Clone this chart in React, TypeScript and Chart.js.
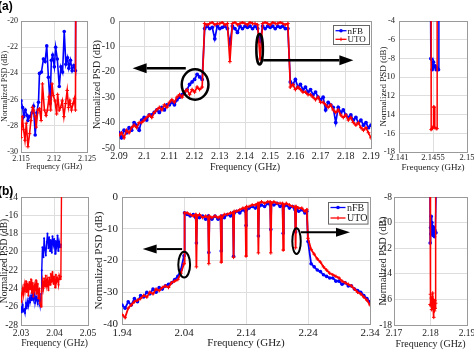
import React, { useEffect, useRef } from "react";
import { Chart, registerables } from "chart.js";

Chart.register(...registerables);

const SERIF = '"Liberation Serif", "Times New Roman", serif';
const BLUE = "#0000ff";
const RED = "#ff0000";
const TEXT = "#222222";
const GRID = "#dedede";
const FRAME = "#9a9a9a";

const X_TITLE = "Frequency (GHz)";
const Y_TITLE = "Normalized PSD (dB)";
const NAMES = ["nFB", "UTO"];

// ---------------- (a) left : zoom on lower band edge ----------------
const aLeftTicksX = [2.115, 2.12, 2.125];
const aLeftTicksY = [-30, -28, -26, -24, -22, -20];
const aLeftFreqNfb = [2.115, 2.11525, 2.1154, 2.11565, 2.1159, 2.11605, 2.1163, 2.11665, 2.1169, 2.11715, 2.1174, 2.11765, 2.1178, 2.1181, 2.1184, 2.11865, 2.1189, 2.11915, 2.1194, 2.1196, 2.1198, 2.12005, 2.12025, 2.1205, 2.1208, 2.12105, 2.1213, 2.12155, 2.1218, 2.12205, 2.12225, 2.1225, 2.12275, 2.123, 2.12325, 2.12335];
const aLeftPsdNfb = [-26.1, -26.6, -27.3, -26.8, -27.2, -27.6, -27.3, -27.0, -26.5, -28.7, -27.0, -26.2, -24.0, -23.9, -22.9, -23.1, -21.9, -24.3, -26.3, -23.0, -22.6, -23.5, -22.0, -22.9, -25.0, -23.5, -23.9, -20.8, -23.3, -22.8, -23.6, -23.0, -23.8, -23.4, -23.8, -10];
const aLeftFreqUto = [2.115, 2.1152, 2.1154, 2.1156, 2.1158, 2.11605, 2.1163, 2.1165, 2.11675, 2.1169, 2.11715, 2.1173, 2.11755, 2.1178, 2.11805, 2.11825, 2.11855, 2.1188, 2.119, 2.11925, 2.1195, 2.1197, 2.1199, 2.12015, 2.1204, 2.12055, 2.1208, 2.121, 2.12125, 2.1215, 2.12175, 2.122, 2.1222, 2.1224, 2.12265, 2.1229, 2.1231, 2.12325, 2.12335];
const aLeftPsdUto = [-28.9, -27.3, -28.3, -29.1, -27.8, -29.6, -28.6, -27.6, -26.6, -26.8, -27.3, -28.1, -26.8, -26.7, -27.6, -24.8, -26.8, -27.2, -26.8, -25.8, -26.8, -24.8, -25.7, -26.1, -27.1, -25.6, -26.8, -26.6, -26.1, -27.3, -26.3, -25.3, -26.6, -26.1, -26.8, -26.3, -25.9, -26.8, -10];

// ---------------- (a) middle : full spectrum ----------------
const aMidTicksX = [2.09, 2.1, 2.11, 2.12, 2.13, 2.14, 2.15, 2.16, 2.17, 2.18, 2.19];
const aMidTicksY = [-50, -40, -30, -20, -10, 0];
const aMidFreq = [
  2.090, 2.091, 2.092, 2.093, 2.094, 2.095, 2.096, 2.097, 2.098, 2.099,
  2.100, 2.101, 2.102, 2.103, 2.104, 2.105, 2.106, 2.107, 2.108, 2.109,
  2.110, 2.111, 2.112, 2.113, 2.114, 2.115, 2.116, 2.117, 2.118, 2.119,
  2.120, 2.121, 2.122, 2.123, 2.124, 2.125, 2.126, 2.127, 2.128, 2.129,
  2.130, 2.131, 2.132, 2.133, 2.134, 2.135, 2.136, 2.137, 2.138, 2.139,
  2.140, 2.141, 2.142, 2.143, 2.144, 2.145, 2.146, 2.147, 2.148, 2.149,
  2.150, 2.151, 2.152, 2.153, 2.154, 2.155, 2.156, 2.157, 2.158, 2.159,
  2.160, 2.161, 2.162, 2.163, 2.164, 2.165, 2.166, 2.167, 2.168, 2.169,
  2.170, 2.171, 2.172, 2.173, 2.174, 2.175, 2.176, 2.177, 2.178, 2.179,
  2.180, 2.181, 2.182, 2.183, 2.184, 2.185, 2.186, 2.187, 2.188, 2.189,
  2.190,
];
const aMidPsdNfb = [
  -44, -46, -43, -44, -42, -43, -40, -41, -43, -39,
  -38, -39, -37, -37, -36, -35, -36, -34, -35, -33,
  -33, -32, -33, -31, -30, -29, -28, -27, -25, -24,
  -23, -21, -22, -23, -3, -2, -3, -2.5, -7, -2,
  -3, -2.5, -2, -3, -9, -2, -3, -4.5, -2, -3,
  -2, -2.5, -2, -3, -2, -3, -8, -2, -3, -2,
  -2.5, -2, -3, -2, -2.5, -2, -3, -3, -24, -25,
  -23, -26, -25, -27, -26, -28, -27, -29, -28, -30,
  -31, -30, -35, -32, -33, -34, -40, -34, -36, -35,
  -37, -38, -37, -39, -38, -40, -39, -41, -40, -42,
  -41,
];
const aMidPsdUto = [
  -45, -44, -46, -43, -44, -42, -41, -42, -40, -40,
  -39, -38, -37, -38, -36, -35, -34, -35, -33, -34,
  -32, -31, -32, -30, -29, -30, -28, -27, -29, -27,
  -28, -26, -27, -26, -1, -1.5, -1, -0.5, -1.5, -1,
  -1, -0.5, -1.5, -1, -16, -1, -0.5, -1.5, -1, -0.5,
  -1, -1.5, -0.5, -1, -1, -1.5, -15, -1, -0.5, -1,
  -1.5, -0.5, -1, -1, -0.5, -1, -1.5, -1, -26, -25,
  -27, -26, -27, -28, -28, -29, -29, -30, -31, -30,
  -32, -32, -33, -34, -33, -35, -36, -35, -37, -38,
  -37, -39, -38, -40, -41, -40, -42, -43, -42, -44,
  -46,
];

// ---------------- (a) right : zoom on one notch ----------------
const aRightTicksX = [2.141, 2.1455, 2.15];
const aRightTicksY = [-18, -16, -14, -12, -10, -8, -6, -4];
const aRightFreqNfb = [2.14517, 2.14521, 2.1453, 2.14539, 2.14548, 2.14557, 2.14566, 2.14579, 2.14592, 2.14605, 2.14623, 2.14628];
const aRightPsdNfb = [-2, -8.0, -8.1, -9.2, -9.0, -8.4, -8.9, -8.8, -9.2, -9.0, -9.2, -2];
const aRightFreqUto = [2.14524, 2.14526, 2.14539, 2.14552, 2.14557, 2.14566, 2.14574, 2.14592, 2.14603, 2.14605];
const aRightPsdUto = [-2, -15.6, -15.5, -15.3, -13.2, -13.2, -15.4, -15.5, -15.5, -2];

// ---------------- (b) left ----------------
const bLeftTicksX = [2.03, 2.04, 2.05];
const bLeftTicksY = [-28, -26, -24, -22, -20, -18, -16, -14];
const bLeftFreqNfb = [
  2.03, 2.0302, 2.0305, 2.0307, 2.031, 2.0312, 2.0315, 2.0317, 2.032, 2.0322,
  2.0325, 2.0327, 2.033, 2.0332, 2.0335, 2.0337, 2.034, 2.0342, 2.0345, 2.0347,
  2.035, 2.0352, 2.0355, 2.0357, 2.036, 2.0362, 2.0364, 2.0367, 2.0369, 2.0372,
  2.0374, 2.0377, 2.0379, 2.0382, 2.0384, 2.0387, 2.0389, 2.0392, 2.0394, 2.0397,
  2.0399, 2.0402, 2.0404, 2.0407, 2.0409, 2.0412, 2.0414, 2.0417, 2.0419,
];
const bLeftPsdNfb = [
  -26.0, -26.6, -25.8, -26.5, -26.3, -26.7, -25.6, -26.2, -25.4, -25.9,
  -25.1, -25.5, -24.8, -25.3, -24.6, -25.2, -24.5, -25.6, -24.9, -25.3,
  -25.7, -24.8, -25.4, -25.9, -24.6, -22.0, -19.5, -20.6, -18.5, -19.8,
  -20.4, -18.9, -18.0, -19.6, -18.4, -19.9, -18.7, -20.1, -18.3, -19.2,
  -18.6, -20.2, -18.8, -19.4, -18.2, -19.9, -18.9, -19.5, -19.2,
];
const bLeftFreqUto = [
  2.03, 2.0302, 2.0305, 2.0307, 2.031, 2.0312, 2.0315, 2.0317, 2.032, 2.0322,
  2.0325, 2.0327, 2.033, 2.0332, 2.0335, 2.0337, 2.034, 2.0342, 2.0345, 2.0347,
  2.035, 2.0352, 2.0355, 2.0357, 2.036, 2.0362, 2.0364, 2.0367, 2.0369, 2.0372,
  2.0374, 2.0377, 2.0379, 2.0382, 2.0384, 2.0387, 2.0389, 2.0392, 2.0394, 2.0397,
  2.0399, 2.0402, 2.0404, 2.0407, 2.0409, 2.0412, 2.0414, 2.0417, 2.0419, 2.0421,
];
const bLeftPsdUto = [
  -25.5, -24.6, -24.0, -24.7, -23.6, -24.3, -23.2, -24.4, -23.5, -24.8,
  -23.3, -24.1, -23.0, -24.5, -23.4, -24.9, -23.7, -24.2, -23.1, -24.6,
  -23.5, -25.1, -24.0, -25.6, -26.0, -24.3, -23.2, -24.0, -22.9, -23.8,
  -22.6, -23.7, -23.1, -24.2, -22.8, -23.6, -22.4, -23.3, -22.2, -23.5,
  -22.7, -23.9, -22.5, -23.2, -22.9, -23.6, -22.6, -23.0, -22.7, -13,
];

// ---------------- (b) middle ----------------
const bMidTicksX = [1.94, 2.04, 2.14, 2.24, 2.34];
const bMidTicksY = [-40, -30, -20, -10, 0];
const bMidFreq = [
  1.940, 1.945, 1.950, 1.955, 1.960, 1.965, 1.970, 1.975, 1.980, 1.985,
  1.990, 1.995, 2.000, 2.005, 2.010, 2.015, 2.020, 2.025, 2.030, 2.035,
  2.040, 2.041, 2.045, 2.050, 2.055, 2.059, 2.060, 2.061, 2.065, 2.070,
  2.075, 2.079, 2.080, 2.081, 2.085, 2.090, 2.095, 2.099, 2.100, 2.101,
  2.105, 2.110, 2.115, 2.119, 2.120, 2.121, 2.125, 2.130, 2.135, 2.139,
  2.140, 2.141, 2.145, 2.150, 2.155, 2.159, 2.160, 2.161, 2.165, 2.170,
  2.175, 2.179, 2.180, 2.181, 2.185, 2.190, 2.195, 2.199, 2.200, 2.201,
  2.205, 2.210, 2.215, 2.219, 2.220, 2.221, 2.225, 2.230, 2.235, 2.238,
  2.240, 2.245, 2.250, 2.255, 2.260, 2.265, 2.270, 2.275, 2.280, 2.285,
  2.290, 2.295, 2.300, 2.305, 2.310, 2.315, 2.320, 2.325, 2.330, 2.335,
  2.340,
];
const bMidPsdNfb = [
  -34, -35, -33, -34, -32, -33, -31, -31.5, -30, -30.5,
  -29, -30, -28.5, -29, -28, -27.5, -27, -26, -25, -23,
  -18.5, -5, -5.5, -6, -5.5, -6.5, -14.5, -6, -6.5, -6,
  -7, -6, -17.5, -6.5, -7, -6, -7, -6.5, -17, -6,
  -6.5, -5.5, -6, -5, -18.7, -5, -4.5, -5, -4, -4.5,
  -9, -4, -3.5, -3, -3.5, -2.5, -12.3, -3, -2.5, -3,
  -2, -2.5, -10.2, -2, -2.5, -2, -3, -2.5, -11.4, -3,
  -2.5, -3.5, -3, -4, -11, -3.5, -4.5, -4, -5, -4.5,
  -14, -21, -22, -23, -23.5, -24.5, -25, -25.5, -25.5, -26.5,
  -26.5, -27.5, -27, -28, -28, -29, -29.5, -30, -31, -32,
  -33,
];
const bMidPsdUto = [
  -37, -38, -35, -34, -33, -32.5, -32, -31, -31.5, -30,
  -30.5, -29, -29.5, -28.5, -28, -28.5, -27, -26.5, -26, -24,
  -21, -5, -5, -5.5, -6, -5.5, -22, -6, -5.5, -6.5,
  -6, -6.5, -21, -6, -6.5, -6, -6.5, -6, -20.5, -6.5,
  -5.5, -5.5, -5, -5, -19, -4.5, -4.5, -4, -3.5, -3.5,
  -18.6, -3, -3, -2.5, -2.5, -2, -17.6, -2, -1.5, -2,
  -1.5, -1.5, -17.6, -2, -1.5, -2, -2, -2, -16.7, -2.5,
  -2, -2.5, -3, -3, -16, -3, -3.5, -3.5, -4.5, -4,
  -13, -16.5, -18, -19.5, -20.5, -22, -23, -24, -24.5, -25,
  -25.5, -26.5, -27, -27.5, -28, -29, -30, -30.5, -31.5, -32.5,
  -34,
];

// ---------------- (b) right ----------------
const bRightTicksX = [2.17, 2.18, 2.19];
const bRightTicksY = [-18, -16, -14, -12, -10, -8];
const bRightFreqNfb = [2.17985, 2.1799, 2.18, 2.1801, 2.1802, 2.1803, 2.1804, 2.1805, 2.1806, 2.1807, 2.1808, 2.1809, 2.181, 2.1811, 2.1812, 2.1813, 2.1815, 2.1816];
const bRightPsdNfb = [-7, -11.6, -10.4, -10.9, -9.5, -10.2, -10.0, -10.7, -10.3, -11.0, -10.5, -10.9, -10.4, -11.1, -10.6, -10.8, -10.8, -7];
const bRightFreqUto = [2.17988, 2.1799, 2.18, 2.1801, 2.1802, 2.1803, 2.1804, 2.1805, 2.1806, 2.1807, 2.1808, 2.1809, 2.181, 2.1811, 2.1812, 2.1813, 2.1814, 2.18142];
const bRightPsdUto = [-7, -16.4, -15.6, -16.5, -15.9, -16.8, -15.8, -16.3, -15.5, -16.6, -16.0, -17.4, -16.2, -16.9, -16.1, -16.7, -16.3, -7];

// ---------------- layout / annotation specs ----------------
type Note =
  | { kind: "ellipse"; x: number; y: number; rx: number; ry: number }
  | { kind: "arrow"; x1: number; y1: number; x2: number; y2: number };

interface LegendSpec {
  inset: number; top: number; w: number; h: number; font: number;
  rows: [number, number]; lineFrom: number; lineTo: number; textAt: number;
}

interface PanelSpec {
  plot: { left: number; top: number; right: number; bottom: number };
  yTitleX: number;
  xTitleY: number;
  tickFont: number;
  titleFont: number;
  padX: number;
  padY: number;
  xRange: [number, number];
  yRange: [number, number];
  xTicks: number[];
  yTicks: number[];
  nfb: [number[], number[]];
  uto: [number[], number[]];
  lineWidth: number;
  blueR: number;
  redR: number;
  legend?: LegendSpec;
  notes?: Note[];
  noteWidth?: number;
  head?: [number, number];
}

const PANELS: PanelSpec[] = [
  {
    plot: { left: 21, top: 21, right: 87, bottom: 152 }, yTitleX: 5, xTitleY: 167,
    tickFont: 8, titleFont: 8, padX: 2, padY: 3,
    xRange: [2.115, 2.125], yRange: [-30, -20], xTicks: aLeftTicksX, yTicks: aLeftTicksY,
    nfb: [aLeftFreqNfb, aLeftPsdNfb], uto: [aLeftFreqUto, aLeftPsdUto],
    lineWidth: 1.6, blueR: 1.8, redR: 1.8,
  },
  {
    plot: { left: 119, top: 21, right: 371, bottom: 148 }, yTitleX: 97, xTitleY: 167,
    tickFont: 10, titleFont: 10, padX: 2, padY: 4,
    xRange: [2.09, 2.19], yRange: [-50, 0], xTicks: aMidTicksX, yTicks: aMidTicksY,
    nfb: [aMidFreq, aMidPsdNfb], uto: [aMidFreq, aMidPsdUto],
    lineWidth: 1.7, blueR: 1.9, redR: 1.9,
    legend: { inset: 2, top: 4, w: 36, h: 19, font: 9, rows: [5.7, 14.3], lineFrom: 2.5, lineTo: 13.5, textAt: 14.5 },
    notes: [
      { kind: "ellipse", x: 2.1202, y: -25, rx: 0.0053, ry: 6 },
      { kind: "arrow", x1: 2.1165, y1: -18.6, x2: 2.0954, y2: -18.6 },
      { kind: "ellipse", x: 2.1458, y: -11.1, rx: 0.0013, ry: 6 },
      { kind: "arrow", x1: 2.1472, y1: -15.5, x2: 2.183, y2: -15.5 },
    ],
    noteWidth: 2.5, head: [14, 5],
  },
  {
    plot: { left: 399, top: 21, right: 467, bottom: 152 }, yTitleX: 383, xTitleY: 168,
    tickFont: 8.5, titleFont: 9, padX: 1, padY: 4,
    xRange: [2.141, 2.15], yRange: [-18, -4], xTicks: aRightTicksX, yTicks: aRightTicksY,
    nfb: [aRightFreqNfb, aRightPsdNfb], uto: [aRightFreqUto, aRightPsdUto],
    lineWidth: 1.5, blueR: 1.8, redR: 1.8,
  },
  {
    plot: { left: 21, top: 197, right: 88, bottom: 325 }, yTitleX: 5, xTitleY: 343,
    tickFont: 9.5, titleFont: 9.5, padX: 3, padY: 3,
    xRange: [2.03, 2.05], yRange: [-28, -14], xTicks: bLeftTicksX, yTicks: bLeftTicksY,
    nfb: [bLeftFreqNfb, bLeftPsdNfb], uto: [bLeftFreqUto, bLeftPsdUto],
    lineWidth: 1.4, blueR: 1, redR: 1,
  },
  {
    plot: { left: 122, top: 197, right: 370, bottom: 324 }, yTitleX: 100, xTitleY: 343,
    tickFont: 11, titleFont: 11, padX: 3, padY: 4,
    xRange: [1.94, 2.34], yRange: [-40, 0], xTicks: bMidTicksX, yTicks: bMidTicksY,
    nfb: [bMidFreq, bMidPsdNfb], uto: [bMidFreq, bMidPsdUto],
    lineWidth: 1.8, blueR: 1.8, redR: 1.8,
    legend: { inset: 3, top: 4.7, w: 39.5, h: 21.6, font: 10, rows: [5.5, 16], lineFrom: 2.5, lineTo: 17.5, textAt: 19 },
    notes: [
      { kind: "ellipse", x: 2.0403, y: -21.3, rx: 0.0095, ry: 4.05 },
      { kind: "arrow", x1: 2.037, y1: -16.4, x2: 1.9733, y2: -16.4 },
      { kind: "ellipse", x: 2.2215, y: -13.9, rx: 0.0068, ry: 4.05 },
      { kind: "arrow", x1: 2.2287, y1: -11.1, x2: 2.3077, y2: -11.1 },
    ],
    noteWidth: 2, head: [14, 4.5],
  },
  {
    plot: { left: 394, top: 197, right: 467, bottom: 325 }, yTitleX: 383, xTitleY: 344,
    tickFont: 9.5, titleFont: 10, padX: 3, padY: 2,
    xRange: [2.17, 2.19], yRange: [-18, -8], xTicks: bRightTicksX, yTicks: bRightTicksY,
    nfb: [bRightFreqNfb, bRightPsdNfb], uto: [bRightFreqUto, bRightPsdUto],
    lineWidth: 1.5, blueR: 1.8, redR: 1.8,
  },
];

const toPoints = (s: [number[], number[]]) => s[0].map((x, i) => ({ x, y: s[1][i] }));
const fmt = (v: any) => String(Number(Number(v).toFixed(5)));

const framePlugin = {
  id: "frame",
  beforeDatasetsDraw(chart: any) {
    const { ctx, chartArea: a } = chart;
    ctx.save();
    ctx.strokeStyle = FRAME;
    ctx.lineWidth = 1;
    ctx.strokeRect(a.left + 0.5, a.top + 0.5, a.right - a.left, a.bottom - a.top);
    ctx.restore();
  },
};

function makeOverlay(spec: PanelSpec) {
  return {
    id: "overlay",
    afterDraw(chart: any) {
      const ctx = chart.ctx as CanvasRenderingContext2D;
      const a = chart.chartArea;
      const xs = chart.scales.x;
      const ys = chart.scales.y;
      ctx.save();
      if (spec.notes) {
        ctx.strokeStyle = "#000";
        ctx.fillStyle = "#000";
        ctx.lineWidth = spec.noteWidth || 2;
        const [hl, hw] = spec.head || [12, 4];
        for (const n of spec.notes) {
          if (n.kind === "ellipse") {
            const cx = xs.getPixelForValue(n.x);
            const cy = ys.getPixelForValue(n.y);
            const rx = Math.abs(xs.getPixelForValue(n.x + n.rx) - cx);
            const ry = Math.abs(ys.getPixelForValue(n.y + n.ry) - cy);
            ctx.beginPath();
            ctx.ellipse(cx, cy, rx, ry, 0, 0, Math.PI * 2);
            ctx.stroke();
          } else {
            const x1 = xs.getPixelForValue(n.x1), y1 = ys.getPixelForValue(n.y1);
            const x2 = xs.getPixelForValue(n.x2), y2 = ys.getPixelForValue(n.y2);
            const len = Math.hypot(x2 - x1, y2 - y1) || 1;
            const dx = (x2 - x1) / len, dy = (y2 - y1) / len;
            const bx = x2 - dx * hl, by = y2 - dy * hl;
            ctx.beginPath();
            ctx.moveTo(x1, y1);
            ctx.lineTo(bx, by);
            ctx.stroke();
            ctx.beginPath();
            ctx.moveTo(x2, y2);
            ctx.lineTo(bx - dy * hw, by + dx * hw);
            ctx.lineTo(bx + dy * hw, by - dx * hw);
            ctx.closePath();
            ctx.fill();
          }
        }
      }
      const lg = spec.legend;
      if (lg) {
        const bx = Math.round(a.right - lg.inset - lg.w);
        const by = Math.round(a.top + lg.top);
        ctx.fillStyle = "#fff";
        ctx.fillRect(bx, by, lg.w, lg.h);
        ctx.strokeStyle = "#666";
        ctx.lineWidth = 1;
        ctx.strokeRect(bx + 0.5, by + 0.5, lg.w, lg.h);
        const colors = [BLUE, RED];
        chart.data.datasets.forEach((ds: any, i: number) => {
          const y = by + lg.rows[i];
          const c = colors[i];
          ctx.strokeStyle = c;
          ctx.fillStyle = c;
          ctx.lineWidth = 1.3;
          ctx.beginPath();
          ctx.moveTo(bx + lg.lineFrom, y);
          ctx.lineTo(bx + lg.lineTo, y);
          ctx.stroke();
          const mx = bx + (lg.lineFrom + lg.lineTo) / 2;
          if (i === 0) {
            ctx.beginPath();
            ctx.arc(mx, y, 1.8, 0, Math.PI * 2);
            ctx.fill();
          } else {
            ctx.lineWidth = 1;
            ctx.beginPath();
            ctx.moveTo(mx, y - 1.8);
            ctx.lineTo(mx, y + 1.8);
            ctx.stroke();
          }
          ctx.fillStyle = TEXT;
          ctx.font = `${lg.font}px ${SERIF}`;
          ctx.textBaseline = "middle";
          ctx.textAlign = "left";
          ctx.fillText(ds.label, bx + lg.textAt, y + 0.5);
        });
      }
      ctx.restore();
    },
  };
}

function geometry(spec: PanelSpec) {
  const lh = spec.titleFont * 1.2;
  const padTop = 10;
  const padRight = 16;
  const left = Math.round(spec.yTitleX - lh / 2);
  const top = spec.plot.top - padTop;
  const yW = spec.plot.left - left;
  const xH = Math.round(spec.xTitleY + lh / 2 - spec.plot.bottom);
  const W = spec.plot.right + padRight - left;
  const H = spec.plot.bottom + xH - top;
  return { left, top, yW, xH, W, H, padTop, padRight };
}

function Panel({ spec }: { spec: PanelSpec }) {
  const ref = useRef<HTMLCanvasElement>(null);
  const g = geometry(spec);
  useEffect(() => {
    const tickFont = { family: SERIF, size: spec.tickFont };
    const titleFont = { family: SERIF, size: spec.titleFont };
    const chart = new Chart(ref.current as HTMLCanvasElement, {
      type: "line",
      data: {
        datasets: [
          {
            label: NAMES[0],
            data: toPoints(spec.nfb),
            borderColor: BLUE,
            backgroundColor: BLUE,
            borderWidth: spec.lineWidth,
            pointStyle: "circle",
            pointRadius: spec.blueR,
            pointBackgroundColor: BLUE,
            pointBorderColor: BLUE,
            pointBorderWidth: 0,
            tension: 0,
            fill: false,
            order: 1,
          },
          {
            label: NAMES[1],
            data: toPoints(spec.uto),
            borderColor: RED,
            backgroundColor: RED,
            borderWidth: spec.lineWidth,
            pointStyle: "cross",
            pointRadius: spec.redR,
            pointBackgroundColor: RED,
            pointBorderColor: RED,
            pointBorderWidth: 1,
            tension: 0,
            fill: false,
            order: 0,
          },
        ],
      } as any,
      options: {
        responsive: false,
        animation: false,
        events: [],
        layout: { padding: { top: g.padTop, right: g.padRight, left: 0, bottom: 0 } },
        plugins: { legend: { display: false }, tooltip: { enabled: false }, title: { display: false } },
        scales: {
          x: {
            type: "linear",
            min: spec.xRange[0],
            max: spec.xRange[1],
            afterBuildTicks: (s: any) => { s.ticks = spec.xTicks.map((v) => ({ value: v })); },
            afterFit: (s: any) => { s.height = g.xH; s.paddingLeft = 0; s.paddingRight = 0; },
            ticks: { autoSkip: false, maxRotation: 0, minRotation: 0, padding: spec.padX, font: tickFont, color: TEXT, callback: fmt },
            grid: { color: GRID, drawTicks: false, lineWidth: 1 },
            border: { display: false },
            title: { display: true, text: X_TITLE, font: titleFont, color: TEXT, padding: 0 },
          },
          y: {
            type: "linear",
            min: spec.yRange[0],
            max: spec.yRange[1],
            afterBuildTicks: (s: any) => { s.ticks = spec.yTicks.map((v) => ({ value: v })); },
            afterFit: (s: any) => { s.width = g.yW; s.paddingTop = 0; s.paddingBottom = 0; },
            ticks: { autoSkip: false, padding: spec.padY, font: tickFont, color: TEXT, callback: fmt },
            grid: { color: GRID, drawTicks: false, lineWidth: 1 },
            border: { display: false },
            title: { display: true, text: Y_TITLE, font: titleFont, color: TEXT, padding: 0 },
          },
        },
      } as any,
      plugins: [framePlugin, makeOverlay(spec)],
    });
    return () => chart.destroy();
  }, []);
  return (
    <canvas
      ref={ref}
      width={g.W}
      height={g.H}
      style={{ position: "absolute", left: g.left, top: g.top, width: g.W, height: g.H, display: "block" }}
    />
  );
}

const tagStyle: React.CSSProperties = {
  position: "absolute",
  font: 'bold 12px "Liberation Sans", Arial, sans-serif',
  lineHeight: "12px",
  color: "#000",
};

export default function App() {
  return (
    <div
      style={{
        position: "fixed",
        left: 0,
        top: 0,
        width: 474,
        height: 351,
        overflow: "hidden",
        background: "#fff",
      }}
    >
      {PANELS.map((p, i) => (
        <Panel key={i} spec={p} />
      ))}
      <div style={{ ...tagStyle, left: -2, top: 0 }}>(a)</div>
      <div style={{ ...tagStyle, left: -2, top: 185 }}>(b)</div>
    </div>
  );
}
